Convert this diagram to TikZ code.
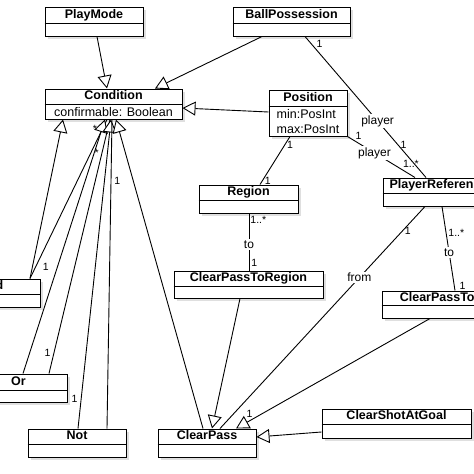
\documentclass[tikz,border=0pt]{standalone}
\usepackage{fontspec}
\setmainfont{Liberation Sans}
\usepackage{tikz}
\usetikzlibrary{arrows.meta,fit,shadows}

\tikzset{
  classbox/.style={draw, fill=white, line width=1pt, inner sep=0pt,
    drop shadow={shadow xshift=3pt, shadow yshift=-3pt, opacity=0.25}},
  classname/.style={font=\bfseries\fontsize{12.5}{14}\selectfont, text height=9pt, text depth=2.5pt, inner sep=0pt},
  classattr/.style={font=\fontsize{12.5}{15}\selectfont, align=left, inner sep=0pt},
  assoc/.style={line width=0.9pt},
  gen/.style={line width=0.9pt, -{Triangle[open, length=13pt, width=14pt, fill=white]}},
  mult/.style={font=\fontsize{10.5}{12}\selectfont, inner sep=1pt},
  role/.style={font=\fontsize{12}{14}\selectfont, fill=white, inner sep=1.5pt}
}

% name, corner, corner, divider y, title, attributes
\newcommand{\umlclass}[6]{%
  \node[classbox, fit={#2 #3}] (#1) {};
  \draw[line width=1pt] (#1.west |- 0,#4) -- (#1.east |- 0,#4);
  \path (#1.north) -- (#1.north |- 0,#4) node[midway, classname] (#1-t) {#5};
  \path (#1.south) -- (#1.south |- 0,#4) node[midway, classattr] (#1-a) {#6};
}

\begin{document}
\begin{tikzpicture}[x=1pt, y=-1pt]
\useasboundingbox (0,0) rectangle (474,474);
\clip (0,0) rectangle (474,474);

\umlclass{playmode}{(45,7)}{(143,36)}{23}{PlayMode}{}
\umlclass{ballpos}{(233,7)}{(350,36)}{23}{BallPossession}{}
\umlclass{cond}{(45,89)}{(182,119)}{104}{Condition}{confirmable: Boolean}
\umlclass{position}{(269,90)}{(347,136)}{106}{Position}{min:PosInt\\max:PosInt}
\umlclass{region}{(199,185)}{(298,213)}{200}{Region}{}
\umlclass{playerref}{(383,178)}{(494,206)}{193}{PlayerReference}{}
\umlclass{cptoregion}{(174,271)}{(323,298)}{286}{ClearPassToRegion}{}
\umlclass{cptoplayer}{(382,291)}{(530,318)}{305}{ClearPassToPlayer}{}
\umlclass{and}{(-58,279)}{(40,307)}{294}{And}{}
\umlclass{or}{(-30,374)}{(67,402)}{390}{Or}{}
\umlclass{not}{(28,429)}{(126,457)}{444}{Not}{}
\umlclass{clearpass}{(158,429)}{(256,457)}{444}{ClearPass}{}
\umlclass{clearshot}{(322,409)}{(471,438)}{424}{ClearShotAtGoal}{}

\draw[gen] (playmode.south -| 97,0) -- (cond.north -| 107,0);
\draw[gen] (ballpos.south -| 262,0) -- (cond.north -| 155,0);
\draw[gen] (position.west |- 0,112) -- (cond.east |- 0,108);

\draw[assoc] (ballpos.south -| 305,0) -- node[mult, pos=0.05, right=4pt] (bp-a) {1}
  node[role, pos=0.6] (bp-r) {player} node[mult, pos=0.77, right=1pt] (bp-b) {1}
  node[mult, pos=0.9, xshift=-3pt] (bp-c) {1..*} (playerref.north -| 426,0);
\draw[assoc] (position.south east) -- node[mult, pos=0.1, above right=0pt] (pp-a) {1}
  node[role, pos=0.4] (pp-r) {player} (playerref.north -| 415,0);
\draw[assoc] (position.south -| 290,0) -- node[mult, pos=0.18, right=1pt] (pr-a) {1}
  node[mult, pos=0.92, right=1pt] (pr-b) {1} (region.north -| 260,0);
\draw[assoc] (region.south -| 249,0) -- node[mult, pos=0.12, right=0pt] (rc-a) {1..*}
  node[role, pos=0.55] (rc-r) {to} node[mult, pos=0.86, right=1pt] (rc-b) {1} (cptoregion.north -| 249,0);
\draw[assoc] (playerref.south -| 442,0) -- node[mult, pos=0.31, right=1pt] (pc-a) {1..*}
  node[role, pos=0.55] (pc-r) {to} node[mult, pos=0.94, right=4pt] (pc-b) {1} (cptoplayer.north -| 455,0);
\draw[assoc] (playerref.south -| 425,0) -- node[mult, pos=0.11, right=1pt] (pf-a) {1}
  node[role, pos=0.32] (pf-r) {from} (clearpass.north -| 220,0);

\draw[gen] (cptoplayer.south -| 430,0) -- node[mult, pos=0.93, above=2pt] (cc-a) {1} (clearpass.north -| 236,0);
\draw[gen] (cptoregion.south -| 240,0) -- (clearpass.north -| 212,0);
\draw[gen] (clearshot.west |- 0,432) -- (clearpass.east |- 0,437);

\draw[gen] (and.north -| 30,0) -- (cond.south -| 63,0);
\draw[assoc] (and.north -| 30,0) -- node[mult, pos=0.07, right=6pt] (ac-a) {1}
  node[mult, pos=0.94, left=4pt] (ac-b) {*} (cond.south -| 107,0);
\draw[gen] (or.north -| 23,0) -- (cond.south -| 105,0);
\draw[assoc] (or.north -| 49,0) -- node[mult, pos=0.08, left=2pt] (oc-a) {1}
  node[mult, pos=0.87, left=2pt] (oc-b) {*} (cond.south -| 110,0);
\node[mult, anchor=base west] (or-one) at ([xshift=3pt]or.south east) {1};
\draw[gen] (not.north -| 78,0) -- (cond.south -| 111,0);
\draw[assoc] (not.north -| 107,0) -- node[mult, pos=0.8, right=2pt] (nc-a) {1} (cond.south -| 112,0);
\draw[gen] (clearpass.north -| 203,0) -- (cond.south -| 116,0);
\end{tikzpicture}
\end{document}
